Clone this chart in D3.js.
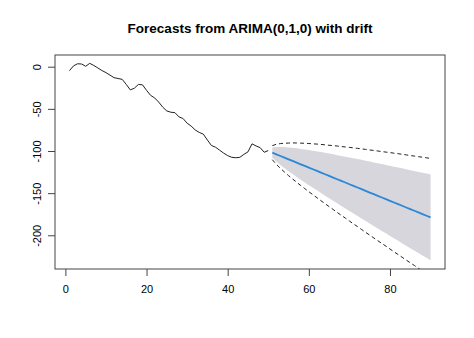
<!DOCTYPE html>
<html><head><meta charset="utf-8">
<script src="https://cdn.jsdelivr.net/npm/d3@7"></script>
<style>body{margin:0;background:#fff}svg{display:block}text{font-family:"Liberation Sans",Arial,Helvetica,sans-serif}</style>
</head><body>
<script>
const title = "Forecasts from ARIMA(0,1,0) with drift";
const history = [-4.7,1,3.5,3.2,0.5,4,1.5,-1.5,-4.5,-7,-10,-13,-14,-15,-21,-27.5,-25.5,-21,-21.5,-28,-34,-37,-42,-48,-52.5,-54,-54.5,-59.5,-61.5,-67,-70.5,-75,-78,-80,-87,-93.5,-95.5,-99,-102.5,-105.5,-107.5,-108,-107.5,-104,-101,-91.5,-94,-96,-101.5,-99.5];
const fcMean = [-102.0,-103.9,-105.9,-107.9,-109.9,-111.8,-113.8,-115.8,-117.7,-119.7,-121.7,-123.6,-125.6,-127.6,-129.6,-131.5,-133.5,-135.5,-137.4,-139.4,-141.4,-143.3,-145.3,-147.3,-149.3,-151.2,-153.2,-155.2,-157.1,-159.1,-161.1,-163.0,-165.0,-167.0,-169.0,-170.9,-172.9,-174.9,-176.8,-178.8];
const lo95 = [-108.1,-112.6,-116.6,-120.4,-124.0,-127.4,-130.8,-134.1,-137.3,-140.5,-143.7,-146.7,-149.9,-153.0,-156.1,-159.1,-162.1,-165.2,-168.1,-171.2,-174.2,-177.1,-180.1,-183.1,-186.0,-188.9,-191.9,-194.9,-197.7,-200.7,-203.6,-206.5,-209.4,-212.3,-215.3,-218.1,-221.0,-224.0,-226.8,-229.7];
const hi95 = [-95.9,-95.2,-95.2,-95.4,-95.8,-96.2,-96.8,-97.5,-98.1,-98.9,-99.7,-100.5,-101.3,-102.2,-103.1,-103.9,-104.9,-105.8,-106.7,-107.6,-108.6,-109.5,-110.5,-111.5,-112.6,-113.5,-114.5,-115.5,-116.5,-117.5,-118.6,-119.5,-120.6,-121.7,-122.7,-123.7,-124.8,-125.8,-126.8,-127.9];
const lo99 = [-110.3,-115.8,-120.6,-125.0,-129.2,-133.2,-137.1,-140.9,-144.6,-148.3,-151.9,-155.4,-159.0,-162.5,-166.0,-169.4,-172.9,-176.3,-179.6,-183.1,-186.5,-189.7,-193.1,-196.5,-199.8,-203.1,-206.4,-209.7,-212.9,-216.3,-219.6,-222.8,-226.1,-229.4,-232.6,-235.8,-239.1,-242.4,-245.5,-248.8];
const hi99 = [-93.7,-92.0,-91.2,-90.8,-90.6,-90.4,-90.5,-90.7,-90.8,-91.1,-91.5,-91.8,-92.2,-92.7,-93.2,-93.6,-94.1,-94.7,-95.2,-95.7,-96.3,-96.9,-97.5,-98.1,-98.8,-99.3,-100.0,-100.7,-101.3,-101.9,-102.6,-103.2,-103.9,-104.6,-105.4,-106.0,-106.7,-107.4,-108.1,-108.8];
const xTicks = [0,20,40,60,80];
const yTicks = [0,-50,-100,-150,-200];

const W=474,H=338;
const L=55,R=445,T=55,B=269;
const svg=d3.select("body").append("svg").attr("width",W).attr("height",H);
const x=d3.scaleLinear().domain([-2.56,93.56]).range([L,R]);
const y=d3.scaleLinear().domain([-240,13.9]).range([B,T]);

const histData=history.map((v,i)=>({t:i+1,v}));
const fc=fcMean.map((v,i)=>({t:history.length+1+i,m:v,lo:lo95[i],hi:hi95[i],lo2:lo99[i],hi2:hi99[i]}));

svg.append("defs").append("clipPath").attr("id","clip").append("rect").attr("x",L).attr("y",T).attr("width",R-L).attr("height",B-T);
const g=svg.append("g").attr("clip-path","url(#clip)");

g.append("path").datum(fc).attr("fill","#d6d6dc")
 .attr("d",d3.area().x(d=>x(d.t)).y0(d=>y(d.lo)).y1(d=>y(d.hi)));
g.append("path").datum(histData).attr("fill","none").attr("stroke","#222").attr("stroke-width",1)
 .attr("d",d3.line().x(d=>x(d.t)).y(d=>y(d.v)));
g.append("path").datum(fc).attr("fill","none").attr("stroke","#2b88d8").attr("stroke-width",1.8)
 .attr("d",d3.line().x(d=>x(d.t)).y(d=>y(d.m)));
["lo2","hi2"].forEach(k=>{
 g.append("path").datum(fc).attr("fill","none").attr("stroke","#222").attr("stroke-width",1).attr("stroke-dasharray","4,3")
  .attr("d",d3.line().x(d=>x(d.t)).y(d=>y(d[k])));
});

svg.append("rect").attr("x",L).attr("y",T).attr("width",R-L).attr("height",B-T)
 .attr("fill","none").attr("stroke","#444").attr("stroke-width",1);

const xa=svg.append("g").attr("transform",`translate(0,${B})`)
 .call(d3.axisBottom(x).tickValues(xTicks).tickSize(7).tickPadding(9).tickFormat(d3.format("d")));
const ya=svg.append("g").attr("transform",`translate(${L},0)`)
 .call(d3.axisLeft(y).tickValues(yTicks).tickSize(7).tickPadding(0).tickFormat(d=>String(d)));
[xa,ya].forEach(a=>{a.select(".domain").remove();a.selectAll("line").attr("stroke","#444");a.selectAll("text").attr("font-size",11).attr("fill","#000").attr("font-family","Liberation Sans, Arial, sans-serif");});
ya.selectAll(".tick text").attr("text-anchor","middle").attr("x",0).attr("y",0).attr("dy","0.35em")
 .attr("transform","translate(-18,0) rotate(-90)");

svg.append("text").attr("x",(L+R)/2).attr("y",33).attr("text-anchor","middle")
 .attr("font-size",13.5).attr("font-weight","bold").text(title);
</script>
</body></html>
